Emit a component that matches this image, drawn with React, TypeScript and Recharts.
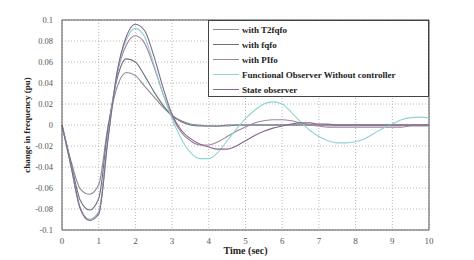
import {
  CartesianGrid,
  Line,
  LineChart,
  ReferenceLine,
  XAxis,
  YAxis,
} from "recharts";

const time = [
  0, 0.25, 0.5, 0.75, 1, 1.25, 1.5, 1.75, 2, 2.25, 2.5, 2.75, 3, 3.25, 3.5,
  3.75, 4, 4.25, 4.5, 4.75, 5, 5.25, 5.5, 5.75, 6, 6.25, 6.5, 6.75, 7, 7.25,
  7.5, 7.75, 8, 8.25, 8.5, 8.75, 9, 9.25, 9.5, 9.75, 10,
];

const t2fqfo = [
  0, -0.035, -0.061, -0.066, -0.057, -0.002, 0.036, 0.05, 0.047, 0.037, 0.027,
  0.017, 0.009, 0.004, 0.001, 0, -0.001, -0.001, -0.001, 0, 0, 0, 0, 0, 0, 0,
  0, 0, 0, 0, 0, 0, 0, 0, 0, 0, 0, 0, 0, 0, 0,
];

const fqfo = [
  0, -0.037, -0.072, -0.081, -0.07, -0.004, 0.044, 0.063, 0.06, 0.047, 0.032,
  0.019, 0.009, 0.003, 0, -0.001, -0.001, -0.001, 0, 0, 0, 0, 0, 0, 0, 0, 0,
  0, 0, 0, 0, 0, 0, 0, 0, 0, 0, 0, 0, 0, 0,
];

const pifo = [
  0, -0.04, -0.079, -0.09, -0.083, -0.012, 0.048, 0.076, 0.085, 0.078, 0.056,
  0.03, 0.008, -0.007, -0.015, -0.019, -0.019, -0.016, -0.011, -0.006, -0.002,
  0.002, 0.004, 0.005, 0.005, 0.004, 0.002, 0, -0.001, -0.002, -0.002, -0.002,
  -0.002, -0.002, -0.002, -0.002, -0.002, -0.002, -0.001, -0.001, -0.001,
];

const functionalObserver = [
  0, -0.04, -0.08, -0.09, -0.084, -0.013, 0.05, 0.081, 0.092, 0.084, 0.058,
  0.03, 0.006, -0.013, -0.026, -0.032, -0.032, -0.026, -0.015, -0.004, 0.006,
  0.014, 0.02, 0.022, 0.02, 0.012, 0.003, -0.005, -0.011, -0.015, -0.017,
  -0.017, -0.016, -0.013, -0.008, -0.003, 0.001, 0.005, 0.007, 0.0075, 0.007,
];

const stateObserver = [
  0, -0.04, -0.08, -0.091, -0.085, -0.015, 0.05, 0.084, 0.096, 0.09, 0.066,
  0.036, 0.01, -0.005, -0.013, -0.018, -0.021, -0.023, -0.023, -0.02, -0.015,
  -0.01, -0.006, -0.003, -0.001, 0.001, 0.002, 0.002, 0.001, 0.001, 0, 0, 0,
  0, 0, 0, 0, 0, 0, 0, 0,
];

const xTicks = [0, 1, 2, 3, 4, 5, 6, 7, 8, 9, 10];
const yTicks = [-0.1, -0.08, -0.06, -0.04, -0.02, 0, 0.02, 0.04, 0.06, 0.08, 0.1];

const series = [
  { key: "t2fqfo", name: "with T2fqfo", color: "#8c8c98" },
  { key: "fqfo", name: "with fqfo", color: "#66757e" },
  { key: "pifo", name: "with PIfo", color: "#a084a0" },
  { key: "functional", name: "Functional Observer Without controller", color: "#8fd2d2" },
  { key: "state", name: "State observer", color: "#85678a" },
];

const data = time.map((t, i) => ({
  t,
  t2fqfo: t2fqfo[i],
  fqfo: fqfo[i],
  pifo: pifo[i],
  functional: functionalObserver[i],
  state: stateObserver[i],
}));

const serif = "'Liberation Serif', 'DejaVu Serif', serif";

function LegendBox() {
  return (
    <div
      style={{
        position: "absolute",
        left: 208,
        top: 20,
        width: 221,
        height: 77,
        border: "1px solid #444",
        background: "#fff",
        boxSizing: "border-box",
        paddingTop: 1,
      }}
    >
      {series.map((s) => (
        <div
          key={s.key}
          style={{ display: "flex", alignItems: "center", height: 15, paddingLeft: 4 }}
        >
          <div style={{ width: 26, height: 0, borderTop: `1px solid ${s.color}` }} />
          <span
            style={{
              marginLeft: 3,
              fontFamily: serif,
              fontWeight: "bold",
              fontSize: 9,
              color: "#222",
              whiteSpace: "nowrap",
            }}
          >
            {s.name}
          </span>
        </div>
      ))}
    </div>
  );
}

export default function App() {
  return (
    <div
      style={{
        position: "absolute",
        left: 0,
        top: 0,
        width: 474,
        height: 260,
        background: "#fff",
      }}
    >
      <LineChart
        width={474}
        height={260}
        data={data}
        margin={{ top: 20, right: 45, bottom: 0, left: 0 }}
      >
        <CartesianGrid stroke="#b8b8b8" strokeDasharray="1 2" />
        <XAxis
          dataKey="t"
          type="number"
          domain={[0, 10]}
          ticks={xTicks}
          interval={0}
          height={30}
          tickLine={false}
          axisLine={{ stroke: "#555" }}
          tick={{ fontSize: 9, fill: "#555", fontFamily: serif }}
          tickMargin={2}
          label={{
            value: "Time (sec)",
            position: "insideBottom",
            offset: 6,
            style: { fontFamily: serif, fontWeight: "bold", fontSize: 10, fill: "#222" },
          }}
        />
        <YAxis
          type="number"
          domain={[-0.1, 0.1]}
          ticks={yTicks}
          interval={0}
          width={62}
          tickLine={false}
          axisLine={{ stroke: "#555" }}
          tick={{ fontSize: 8.5, fill: "#555", fontFamily: serif }}
          tickMargin={3}
          tickFormatter={(v: number) => String(Number(v.toFixed(2)))}
          label={{
            value: "change in frequency (pu)",
            angle: -90,
            position: "insideLeft",
            offset: 27,
            style: {
              fontFamily: serif,
              fontWeight: "bold",
              fontSize: 9,
              fill: "#222",
              textAnchor: "middle",
            },
          }}
        />
        <ReferenceLine y={0.1} stroke="#555" />
        <ReferenceLine x={10} stroke="#555" />
        {series.map((s) => (
          <Line
            key={s.key}
            dataKey={s.key}
            name={s.name}
            type="monotone"
            stroke={s.color}
            strokeWidth={1.1}
            dot={false}
            isAnimationActive={false}
          />
        ))}
      </LineChart>
      <LegendBox />
    </div>
  );
}
